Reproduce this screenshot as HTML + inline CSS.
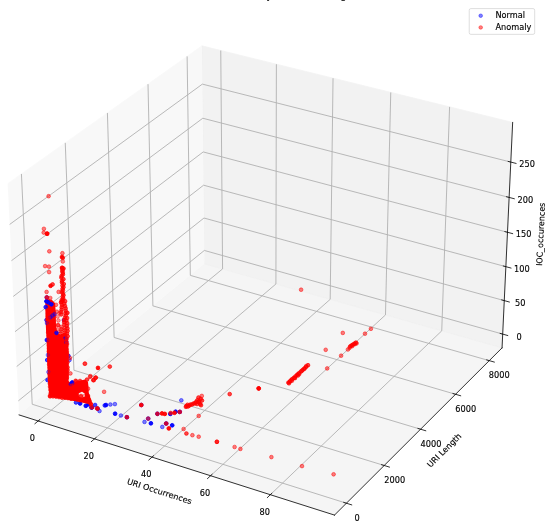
<!DOCTYPE html>
<html><head><meta charset="utf-8"><style>html,body{margin:0;padding:0;background:#fff;overflow:hidden}#w{filter:none;position:relative;width:550px;height:527px;overflow:hidden}svg{display:block} #w text{stroke:#000;stroke-width:0.16;stroke-linejoin:round}</style></head><body><div id="w">
<svg width="550" height="527" preserveAspectRatio="none" style="position:absolute;left:0;top:0" viewBox="0 0 671.186441 661.433744" version="1.1">
 
 <defs>
  <style type="text/css">*{stroke-linejoin: round; stroke-linecap: butt}</style>
 </defs>
 <g id="figure_1">
  <g id="patch_1">
   <path d="M 0 661.433744 
L 671.186441 661.433744 
L 671.186441 0 
L 0 0 
z
" style="fill: #ffffff"/>
  </g>
  <g id="patch_2">
   <path d="M -28.433898 689.721202 
L 656.762034 689.721202 
L 656.762034 4.52527 
L -28.433898 4.52527 
z
" style="fill: #ffffff"/>
  </g>
  <g id="pane3d_1">
   <g id="patch_3">
    <path d="M 23.30312 520.773844 
L 249.577194 331.106428 
L 246.431768 57.572109 
L 9.329313 230.598681 
" style="fill: #f2f2f2; opacity: 0.5; stroke: #f2f2f2; stroke-linejoin: miter"/>
   </g>
  </g>
  <g id="pane3d_2">
   <g id="patch_4">
    <path d="M 249.577194 331.106428 
L 612.666348 436.642111 
L 625.62372 153.686215 
L 246.431768 57.572109 
" style="fill: #e6e6e6; opacity: 0.5; stroke: #e6e6e6; stroke-linejoin: miter"/>
   </g>
  </g>
  <g id="pane3d_3">
   <g id="patch_5">
    <path d="M 23.30312 520.773844 
L 408.195357 646.479648 
L 612.666348 436.642111 
L 249.577194 331.106428 
" style="fill: #ececec; opacity: 0.5; stroke: #ececec; stroke-linejoin: miter"/>
   </g>
  </g>
  <g id="grid3d_1">
   <g id="Line3DCollection_1">
    <path d="M 46.564912 528.371145 
L 271.612475 337.511214 
L 269.398711 63.393559 
" style="fill: none; stroke: #b0b0b0; stroke-width: 1.1"/>
    <path d="M 115.352122 550.837048 
L 336.703902 356.430722 
L 337.276582 80.598621 
" style="fill: none; stroke: #b0b0b0; stroke-width: 1.1"/>
    <path d="M 185.479395 573.740615 
L 402.957614 375.688061 
L 406.419247 98.124271 
" style="fill: none; stroke: #b0b0b0; stroke-width: 1.1"/>
    <path d="M 256.986275 597.094762 
L 470.405024 395.29236 
L 476.862389 115.979554 
" style="fill: none; stroke: #b0b0b0; stroke-width: 1.1"/>
    <path d="M 329.913878 620.912917 
L 539.078685 415.253082 
L 548.643048 134.173859 
" style="fill: none; stroke: #b0b0b0; stroke-width: 1.1"/>
   </g>
  </g>
  <g id="grid3d_2">
   <g id="Line3DCollection_2">
    <path d="M 26.152236 218.322078 
L 39.301202 507.363934 
L 422.71134 631.582679 
" style="fill: none; stroke: #b0b0b0; stroke-width: 1.1"/>
    <path d="M 79.630379 179.296165 
L 90.214482 464.687413 
L 468.847524 584.235604 
" style="fill: none; stroke: #b0b0b0; stroke-width: 1.1"/>
    <path d="M 131.080161 141.750458 
L 139.278997 423.560564 
L 513.221683 538.696801 
" style="fill: none; stroke: #b0b0b0; stroke-width: 1.1"/>
    <path d="M 180.614833 105.60231 
L 186.593651 383.900483 
L 555.932867 494.864619 
" style="fill: none; stroke: #b0b0b0; stroke-width: 1.1"/>
    <path d="M 228.339373 70.775115 
L 232.250415 345.630078 
L 597.07284 452.644887 
" style="fill: none; stroke: #b0b0b0; stroke-width: 1.1"/>
   </g>
  </g>
  <g id="grid3d_3">
   <g id="Line3DCollection_3">
    <path d="M 613.459079 419.330904 
L 249.384376 314.338435 
L 22.449556 503.049045 
" style="fill: none; stroke: #b0b0b0; stroke-width: 1.1"/>
    <path d="M 615.38388 377.298164 
L 248.916407 273.642689 
L 20.376316 459.996863 
" style="fill: none; stroke: #b0b0b0; stroke-width: 1.1"/>
    <path d="M 617.3344 334.703801 
L 248.442485 232.429231 
L 18.274314 416.347442 
" style="fill: none; stroke: #b0b0b0; stroke-width: 1.1"/>
    <path d="M 619.311156 291.536485 
L 247.962496 190.688118 
L 16.142949 372.088268 
" style="fill: none; stroke: #b0b0b0; stroke-width: 1.1"/>
    <path d="M 621.314683 247.784576 
L 247.476321 148.409152 
L 13.981601 327.206474 
" style="fill: none; stroke: #b0b0b0; stroke-width: 1.1"/>
    <path d="M 623.345528 203.436118 
L 246.983842 105.58187 
L 11.789633 281.688828 
" style="fill: none; stroke: #b0b0b0; stroke-width: 1.1"/>
   </g>
  </g>
  <g id="axis3d_1">
   <g id="line2d_1">
    <path d="M 23.30312 520.773844 
L 408.195357 646.479648 
" style="fill: none; stroke: #000000; stroke-linecap: square"/>
   </g>
   <g id="xtick_1">
    <g id="line2d_2">
     <path d="M 48.524612 526.709149 
L 42.637102 531.70227 
" style="fill: none; stroke: #000000; stroke-linecap: square"/>
    </g>
    <g id="text_1" transform="translate(0.488 1.381)">
     <text style="font-size: 10px; font-family: 'DejaVu Sans', 'Liberation Sans', sans-serif; text-anchor: middle" x="39.052922" y="551.644524" transform="rotate(-0 39.052922 551.644524)">0</text>
    </g>
   </g>
   <g id="xtick_2">
    <g id="line2d_3">
     <path d="M 117.28115 549.142843 
L 111.485708 554.232798 
" style="fill: none; stroke: #000000; stroke-linecap: square"/>
    </g>
    <g id="text_2" transform="translate(0.488 1.381)">
     <text style="font-size: 10px; font-family: 'DejaVu Sans', 'Liberation Sans', sans-serif; text-anchor: middle" x="107.8676" y="574.29453" transform="rotate(-0 107.8676 574.29453)">20</text>
    </g>
   </g>
   <g id="xtick_3">
    <g id="line2d_4">
     <path d="M 187.376179 572.013256 
L 181.677528 577.20289 
" style="fill: none; stroke: #000000; stroke-linecap: square"/>
    </g>
    <g id="text_3" transform="translate(0.488 1.381)">
     <text style="font-size: 10px; font-family: 'DejaVu Sans', 'Liberation Sans', sans-serif; text-anchor: middle" x="178.024843" y="597.386435" transform="rotate(-0 178.024843 597.386435)">40</text>
    </g>
   </g>
   <g id="xtick_4">
    <g id="line2d_5">
     <path d="M 258.849168 595.333266 
L 253.25226 600.625535 
" style="fill: none; stroke: #000000; stroke-linecap: square"/>
    </g>
    <g id="text_4" transform="translate(0.488 1.381)">
     <text style="font-size: 10px; font-family: 'DejaVu Sans', 'Liberation Sans', sans-serif; text-anchor: middle" x="249.564331" y="620.933299" transform="rotate(-0 249.564331 620.933299)">60</text>
    </g>
   </g>
   <g id="xtick_5">
    <g id="line2d_6">
     <path d="M 331.741152 619.116263 
L 326.251177 624.514242 
" style="fill: none; stroke: #000000; stroke-linecap: square"/>
    </g>
    <g id="text_5" transform="translate(0.488 1.381)">
     <text style="font-size: 10px; font-family: 'DejaVu Sans', 'Liberation Sans', sans-serif; text-anchor: middle" x="322.527319" y="644.948701" transform="rotate(-0 322.527319 644.948701)">80</text>
    </g>
   </g>
   <g id="text_6" transform="translate(0.000 0.377)">
    <text style="font-size: 10px; font-family: 'DejaVu Sans', 'Liberation Sans', sans-serif; text-anchor: middle" x="193.609976" y="619.686553" transform="rotate(-341.912962 193.609976 619.686553)">URI Occurrences</text>
   </g>
  </g>
  <g id="axis3d_2">
   <g id="line2d_7">
    <path d="M 612.666348 436.642111 
L 408.195357 646.479648 
" style="fill: none; stroke: #000000; stroke-linecap: square"/>
   </g>
   <g id="xtick_6">
    <g id="line2d_8">
     <path d="M 419.480356 630.535892 
L 429.181661 633.67896 
" style="fill: none; stroke: #000000; stroke-linecap: square"/>
    </g>
    <g id="text_7" transform="translate(0.244 1.632)">
     <text style="font-size: 10px; font-family: 'DejaVu Sans', 'Liberation Sans', sans-serif; text-anchor: middle" x="435.585343" y="652.597323" transform="rotate(-0 435.585343 652.597323)">0</text>
    </g>
   </g>
   <g id="xtick_7">
    <g id="line2d_9">
     <path d="M 465.659943 583.229169 
L 475.230768 586.251026 
" style="fill: none; stroke: #000000; stroke-linecap: square"/>
    </g>
    <g id="text_8" transform="translate(0.244 1.632)">
     <text style="font-size: 10px; font-family: 'DejaVu Sans', 'Liberation Sans', sans-serif; text-anchor: middle" x="481.481358" y="604.978215" transform="rotate(-0 481.481358 604.978215)">2000</text>
    </g>
   </g>
   <g id="xtick_8">
    <g id="line2d_10">
     <path d="M 510.076577 537.728429 
L 519.519717 540.635953 
" style="fill: none; stroke: #000000; stroke-linecap: square"/>
    </g>
    <g id="text_9" transform="translate(0.244 1.632)">
     <text style="font-size: 10px; font-family: 'DejaVu Sans', 'Liberation Sans', sans-serif; text-anchor: middle" x="525.624128" y="559.178175" transform="rotate(-0 525.624128 559.178175)">4000</text>
    </g>
   </g>
   <g id="xtick_9">
    <g id="line2d_11">
     <path d="M 552.82932 493.932191 
L 562.147535 496.731751 
" style="fill: none; stroke: #000000; stroke-linecap: square"/>
    </g>
    <g id="text_10" transform="translate(0.244 1.632)">
     <text style="font-size: 10px; font-family: 'DejaVu Sans', 'Liberation Sans', sans-serif; text-anchor: middle" x="568.112232" y="515.094924" transform="rotate(-0 568.112232 515.094924)">6000</text>
    </g>
   </g>
   <g id="xtick_10">
    <g id="line2d_12">
     <path d="M 594.00995 451.746437 
L 603.205956 454.443938 
" style="fill: none; stroke: #000000; stroke-linecap: square"/>
    </g>
    <g id="text_11" transform="translate(0.244 1.632)">
     <text style="font-size: 10px; font-family: 'DejaVu Sans', 'Liberation Sans', sans-serif; text-anchor: middle" x="609.036994" y="472.633707" transform="rotate(-0 609.036994 472.633707)">8000</text>
    </g>
   </g>
   <g id="text_12" transform="translate(0.610 0.879)">
    <text style="font-size: 10px; font-family: 'DejaVu Sans', 'Liberation Sans', sans-serif; text-anchor: middle" x="543.935639" y="566.77736" transform="rotate(-45.742112 543.935639 566.77736)">URI Length</text>
   </g>
  </g>
  <g id="axis3d_3">
   <g id="line2d_13">
    <path d="M 612.666348 436.642111 
L 625.62372 153.686215 
" style="fill: none; stroke: #000000; stroke-linecap: square"/>
   </g>
   <g id="xtick_11">
    <g id="line2d_14">
     <path d="M 610.403097 418.449615 
L 619.57833 421.095584 
" style="fill: none; stroke: #000000; stroke-linecap: square"/>
    </g>
    <g id="text_13" transform="translate(1.831 1.883)">
     <text style="font-size: 10px; font-family: 'DejaVu Sans', 'Liberation Sans', sans-serif; text-anchor: middle" x="631.790364" y="424.332664" transform="rotate(-0 631.790364 424.332664)">0</text>
    </g>
   </g>
   <g id="xtick_12">
    <g id="line2d_15">
     <path d="M 612.306857 376.427826 
L 621.545314 379.040928 
" style="fill: none; stroke: #000000; stroke-linecap: square"/>
    </g>
    <g id="text_14" transform="translate(0.976 1.255)">
     <text style="font-size: 10px; font-family: 'DejaVu Sans', 'Liberation Sans', sans-serif; text-anchor: middle" x="633.83441" y="382.332205" transform="rotate(-0 633.83441 382.332205)">50</text>
    </g>
   </g>
   <g id="xtick_13">
    <g id="line2d_16">
     <path d="M 614.236043 333.844788 
L 623.538601 336.423904 
" style="fill: none; stroke: #000000; stroke-linecap: square"/>
    </g>
    <g id="text_15" transform="translate(0.976 1.255)">
     <text style="font-size: 10px; font-family: 'DejaVu Sans', 'Liberation Sans', sans-serif; text-anchor: middle" x="635.905735" y="339.771221" transform="rotate(-0 635.905735 339.771221)">100</text>
    </g>
   </g>
   <g id="xtick_14">
    <g id="line2d_17">
     <path d="M 616.191169 290.689179 
L 625.558722 293.233156 
" style="fill: none; stroke: #000000; stroke-linecap: square"/>
    </g>
    <g id="text_16" transform="translate(0.976 1.255)">
     <text style="font-size: 10px; font-family: 'DejaVu Sans', 'Liberation Sans', sans-serif; text-anchor: middle" x="638.004889" y="296.638415" transform="rotate(-0 638.004889 296.638415)">150</text>
    </g>
   </g>
   <g id="xtick_15">
    <g id="line2d_18">
     <path d="M 618.172761 246.949376 
L 627.606223 249.457022 
" style="fill: none; stroke: #000000; stroke-linecap: square"/>
    </g>
    <g id="text_17" transform="translate(0.976 1.255)">
     <text style="font-size: 10px; font-family: 'DejaVu Sans', 'Liberation Sans', sans-serif; text-anchor: middle" x="640.132436" y="252.922186" transform="rotate(-0 640.132436 252.922186)">200</text>
    </g>
   </g>
   <g id="xtick_16">
    <g id="line2d_19">
     <path d="M 620.181361 202.613433 
L 629.681665 205.083517 
" style="fill: none; stroke: #000000; stroke-linecap: square"/>
    </g>
    <g id="text_18" transform="translate(0.976 1.255)">
     <text style="font-size: 10px; font-family: 'DejaVu Sans', 'Liberation Sans', sans-serif; text-anchor: middle" x="642.288957" y="208.610615" transform="rotate(-0 642.288957 208.610615)">250</text>
    </g>
   </g>
   <g id="text_19" transform="translate(1.220 1.255)">
    <text style="font-size: 10px; font-family: 'DejaVu Sans', 'Liberation Sans', sans-serif; text-anchor: middle" x="662.072834" y="292.94812" transform="rotate(-87.378092 662.072834 292.94812)">IOC_occurences</text>
   </g>
  </g>
  <g id="axes_1">
   <g id="Path3DCollection_1"/>
   <g id="Path3DCollection_2"/>
   <g id="legend_1" transform="translate(0.732 1.255)">
    <g id="patch_6">
     <path d="M 573.899534 41.88152 
L 649.762034 41.88152 
Q 651.762034 41.88152 651.762034 39.88152 
L 651.762034 11.52527 
Q 651.762034 9.52527 649.762034 9.52527 
L 573.899534 9.52527 
Q 571.899534 9.52527 571.899534 11.52527 
L 571.899534 39.88152 
Q 571.899534 41.88152 573.899534 41.88152 
z
" style="fill: #ffffff; opacity: 0.8; stroke: #cccccc; stroke-linejoin: miter"/>
    </g>
    <g id="Path3DCollection_3">
     
     <g>
      <circle cx="585.899534" cy="18.498707" r="2.236068" style="fill: #0000ff; fill-opacity: 0.5; stroke: #0000ff; stroke-opacity: 0.5"/>
     </g>
    </g>
    <g id="text_20" transform="translate(0.000 0.628)">
     <text style="font-size: 10px; font-family: 'DejaVu Sans', 'Liberation Sans', sans-serif; text-anchor: start" x="603.899534" y="21.123707" transform="rotate(-0 603.899534 21.123707)">Normal</text>
    </g>
    <g id="Path3DCollection_4">
     
     <g>
      <circle cx="585.899534" cy="33.176832" r="2.236068" style="fill: #ff0000; fill-opacity: 0.5; stroke: #ff0000; stroke-opacity: 0.5"/>
     </g>
    </g>
    <g id="text_21" transform="translate(0.000 0.753)">
     <text style="font-size: 10px; font-family: 'DejaVu Sans', 'Liberation Sans', sans-serif; text-anchor: start" x="603.899534" y="35.801832" transform="rotate(-0 603.899534 35.801832)">Anomaly</text>
    </g>
   </g>
  </g>
 </g>
</svg>

<svg width="550" height="527" viewBox="0 0 550 527" style="position:absolute;left:0;top:0"><text x="261.9" y="-0.7" font-family="'DejaVu Sans', 'Liberation Sans', sans-serif" font-size="9.1" text-anchor="middle" fill="#000">3D Scatter Plot: Anomaly Detection using LOF</text>
<g stroke-width="0.95">
<circle cx="181.3" cy="400.3" r="1.85" fill="#0000ff" stroke="#0000ff" fill-opacity="0.5" stroke-opacity="0.5"/>
<circle cx="106.0" cy="405.0" r="1.85" fill="#0000ff" stroke="#0000ff" fill-opacity="0.95" stroke-opacity="0.95"/>
<circle cx="104.8" cy="405.4" r="1.85" fill="#0000ff" stroke="#0000ff" fill-opacity="0.72" stroke-opacity="0.72"/>
<circle cx="110.4" cy="404.5" r="1.85" fill="#0000ff" stroke="#0000ff" fill-opacity="0.5" stroke-opacity="0.5"/>
<circle cx="114.9" cy="404.1" r="1.85" fill="#0000ff" stroke="#0000ff" fill-opacity="0.5" stroke-opacity="0.5"/>
<circle cx="115.1" cy="413.7" r="1.85" fill="#0000ff" stroke="#0000ff" fill-opacity="0.95" stroke-opacity="0.95"/>
<circle cx="120.9" cy="415.5" r="1.85" fill="#0000ff" stroke="#0000ff" fill-opacity="0.5" stroke-opacity="0.5"/>
<circle cx="99.5" cy="411.0" r="1.85" fill="#0000ff" stroke="#0000ff" fill-opacity="0.5" stroke-opacity="0.5"/>
<circle cx="95.1" cy="405.0" r="1.85" fill="#0000ff" stroke="#0000ff" fill-opacity="0.72" stroke-opacity="0.72"/>
<circle cx="85.8" cy="405.8" r="1.85" fill="#0000ff" stroke="#0000ff" fill-opacity="0.95" stroke-opacity="0.95"/>
<circle cx="80.1" cy="403.5" r="1.85" fill="#0000ff" stroke="#0000ff" fill-opacity="0.95" stroke-opacity="0.95"/>
<circle cx="72.2" cy="382.5" r="1.85" fill="#0000ff" stroke="#0000ff" fill-opacity="0.95" stroke-opacity="0.95"/>
<circle cx="144.5" cy="421.9" r="1.85" fill="#0000ff" stroke="#0000ff" fill-opacity="0.5" stroke-opacity="0.5"/>
<circle cx="150.9" cy="423.3" r="1.85" fill="#0000ff" stroke="#0000ff" fill-opacity="0.95" stroke-opacity="0.95"/>
<circle cx="162.3" cy="426.9" r="1.85" fill="#0000ff" stroke="#0000ff" fill-opacity="0.5" stroke-opacity="0.5"/>
<circle cx="172.2" cy="425.3" r="1.85" fill="#0000ff" stroke="#0000ff" fill-opacity="0.95" stroke-opacity="0.95"/>
<circle cx="170.3" cy="413.9" r="1.85" fill="#0000ff" stroke="#0000ff" fill-opacity="0.95" stroke-opacity="0.95"/>
<circle cx="175.6" cy="411.7" r="1.85" fill="#0000ff" stroke="#0000ff" fill-opacity="0.95" stroke-opacity="0.95"/>
<circle cx="126.9" cy="417.2" r="1.85" fill="#0000ff" stroke="#0000ff" fill-opacity="0.95" stroke-opacity="0.95"/>
<circle cx="141.3" cy="405.0" r="1.85" fill="#0000ff" stroke="#0000ff" fill-opacity="0.72" stroke-opacity="0.72"/>
<circle cx="148.2" cy="418.6" r="1.85" fill="#0000ff" stroke="#0000ff" fill-opacity="0.72" stroke-opacity="0.72"/>
<circle cx="166.2" cy="423.5" r="1.85" fill="#0000ff" stroke="#0000ff" fill-opacity="0.95" stroke-opacity="0.95"/>
<circle cx="157.4" cy="413.8" r="1.85" fill="#0000ff" stroke="#0000ff" fill-opacity="0.95" stroke-opacity="0.95"/>
<circle cx="179.8" cy="411.9" r="1.85" fill="#0000ff" stroke="#0000ff" fill-opacity="0.95" stroke-opacity="0.95"/>
<circle cx="91.8" cy="407.4" r="1.85" fill="#0000ff" stroke="#0000ff" fill-opacity="0.95" stroke-opacity="0.95"/>
<circle cx="97.6" cy="408.6" r="1.85" fill="#0000ff" stroke="#0000ff" fill-opacity="0.95" stroke-opacity="0.95"/>
<circle cx="46.8" cy="297.4" r="1.85" fill="#0000ff" stroke="#0000ff" fill-opacity="0.72" stroke-opacity="0.72"/>
<circle cx="46.5" cy="301.3" r="1.85" fill="#0000ff" stroke="#0000ff" fill-opacity="0.95" stroke-opacity="0.95"/>
<circle cx="48.5" cy="302.5" r="1.85" fill="#0000ff" stroke="#0000ff" fill-opacity="0.95" stroke-opacity="0.95"/>
<circle cx="50.5" cy="303.5" r="1.85" fill="#0000ff" stroke="#0000ff" fill-opacity="0.95" stroke-opacity="0.95"/>
<circle cx="52.8" cy="316.0" r="1.85" fill="#0000ff" stroke="#0000ff" fill-opacity="0.95" stroke-opacity="0.95"/>
<circle cx="56.2" cy="332.6" r="1.85" fill="#0000ff" stroke="#0000ff" fill-opacity="0.95" stroke-opacity="0.95"/>
<circle cx="65.3" cy="340.6" r="1.85" fill="#0000ff" stroke="#0000ff" fill-opacity="0.95" stroke-opacity="0.95"/>
<circle cx="64.5" cy="344.0" r="1.85" fill="#0000ff" stroke="#0000ff" fill-opacity="0.72" stroke-opacity="0.72"/>
<circle cx="46.5" cy="320.0" r="1.85" fill="#0000ff" stroke="#0000ff" fill-opacity="0.72" stroke-opacity="0.72"/>
<circle cx="46.8" cy="340.0" r="1.85" fill="#0000ff" stroke="#0000ff" fill-opacity="0.72" stroke-opacity="0.72"/>
<circle cx="47.2" cy="360.0" r="1.85" fill="#0000ff" stroke="#0000ff" fill-opacity="0.72" stroke-opacity="0.72"/>
<circle cx="47.5" cy="380.0" r="1.85" fill="#0000ff" stroke="#0000ff" fill-opacity="0.72" stroke-opacity="0.72"/>
<circle cx="68.5" cy="356.0" r="1.85" fill="#0000ff" stroke="#0000ff" fill-opacity="0.72" stroke-opacity="0.72"/>
<circle cx="69.5" cy="360.0" r="1.85" fill="#0000ff" stroke="#0000ff" fill-opacity="0.5" stroke-opacity="0.5"/>
<circle cx="88.5" cy="404.3" r="1.85" fill="#0000ff" stroke="#0000ff" fill-opacity="0.95" stroke-opacity="0.95"/>
<circle cx="91.5" cy="407.5" r="1.85" fill="#0000ff" stroke="#0000ff" fill-opacity="0.95" stroke-opacity="0.95"/>
<circle cx="76.0" cy="402.5" r="1.85" fill="#0000ff" stroke="#0000ff" fill-opacity="0.72" stroke-opacity="0.72"/>
<polygon points="45.3,302 47.5,299 52,300 55,303 55.8,312 56,326 57.5,333 60,334.5 64,333 66.8,334 68.2,342 68.4,352 68.6,381 72,384.5 76,381.5 80,380.5 85.5,379.5 88,382 88.4,386 88.8,393 90.5,398 92,402 91,404.5 86,403.5 80,402 74,401 62,398.5 49.5,397 47.8,380 46.6,340 45.5,320" fill="#ff0000"/>
<polygon points="78.8,393.2 82,391.8 84.6,393.4 85,396.6 81.5,397.8 79,396.8" fill="#f5f5f5"/>
<circle cx="80.5" cy="396.8" r="1.85" fill="#ff0000" stroke="#ff0000" fill-opacity="0.3" stroke-opacity="0.3"/>
<circle cx="84.2" cy="396.2" r="1.85" fill="#ff0000" stroke="#ff0000" fill-opacity="0.3" stroke-opacity="0.3"/>
<circle cx="46.8" cy="301.4" r="1.85" fill="#0000ff" stroke="#0000ff" fill-opacity="0.9" stroke-opacity="0.9"/>
<circle cx="48.5" cy="302.5" r="1.85" fill="#0000ff" stroke="#0000ff" fill-opacity="0.8" stroke-opacity="0.8"/>
<circle cx="51.4" cy="304.3" r="1.85" fill="#0000ff" stroke="#0000ff" fill-opacity="0.9" stroke-opacity="0.9"/>
<circle cx="45.7" cy="307.1" r="1.85" fill="#0000ff" stroke="#0000ff" fill-opacity="0.8" stroke-opacity="0.8"/>
<circle cx="50.3" cy="317.4" r="1.85" fill="#0000ff" stroke="#0000ff" fill-opacity="0.45" stroke-opacity="0.45"/>
<circle cx="52.5" cy="315.5" r="1.85" fill="#0000ff" stroke="#0000ff" fill-opacity="0.45" stroke-opacity="0.45"/>
<circle cx="54.8" cy="314.0" r="1.85" fill="#0000ff" stroke="#0000ff" fill-opacity="0.45" stroke-opacity="0.45"/>
<circle cx="56.5" cy="332.8" r="1.85" fill="#0000ff" stroke="#0000ff" fill-opacity="0.8" stroke-opacity="0.8"/>
<circle cx="64.0" cy="320.2" r="1.85" fill="#0000ff" stroke="#0000ff" fill-opacity="0.7" stroke-opacity="0.7"/>
<circle cx="65.7" cy="337.9" r="1.85" fill="#0000ff" stroke="#0000ff" fill-opacity="0.8" stroke-opacity="0.8"/>
<circle cx="66.2" cy="341.9" r="1.85" fill="#0000ff" stroke="#0000ff" fill-opacity="0.7" stroke-opacity="0.7"/>
<circle cx="47.0" cy="323.0" r="1.85" fill="#0000ff" stroke="#0000ff" fill-opacity="0.45" stroke-opacity="0.45"/>
<circle cx="47.4" cy="340.0" r="1.85" fill="#0000ff" stroke="#0000ff" fill-opacity="0.45" stroke-opacity="0.45"/>
<circle cx="47.9" cy="355.0" r="1.85" fill="#0000ff" stroke="#0000ff" fill-opacity="0.4" stroke-opacity="0.4"/>
<circle cx="48.4" cy="372.0" r="1.85" fill="#0000ff" stroke="#0000ff" fill-opacity="0.4" stroke-opacity="0.4"/>
<circle cx="72.4" cy="382.8" r="1.85" fill="#0000ff" stroke="#0000ff" fill-opacity="0.75" stroke-opacity="0.75"/>
<circle cx="70.8" cy="384.2" r="1.85" fill="#0000ff" stroke="#0000ff" fill-opacity="0.5" stroke-opacity="0.5"/>
<circle cx="73.5" cy="384.8" r="1.85" fill="#ff0000" stroke="#ff0000" fill-opacity="0.45" stroke-opacity="0.45"/>
<circle cx="71.5" cy="386.0" r="1.85" fill="#ff0000" stroke="#ff0000" fill-opacity="0.45" stroke-opacity="0.45"/>
<circle cx="301.1" cy="289.7" r="1.85" fill="#ff0000" stroke="#ff0000" fill-opacity="0.5" stroke-opacity="0.5"/>
<circle cx="370.9" cy="328.8" r="1.85" fill="#ff0000" stroke="#ff0000" fill-opacity="0.5" stroke-opacity="0.5"/>
<circle cx="365.0" cy="333.7" r="1.85" fill="#ff0000" stroke="#ff0000" fill-opacity="0.5" stroke-opacity="0.5"/>
<circle cx="342.8" cy="332.9" r="1.85" fill="#ff0000" stroke="#ff0000" fill-opacity="0.5" stroke-opacity="0.5"/>
<circle cx="347.9" cy="349.5" r="1.85" fill="#ff0000" stroke="#ff0000" fill-opacity="0.5" stroke-opacity="0.5"/>
<circle cx="325.7" cy="349.8" r="1.85" fill="#ff0000" stroke="#ff0000" fill-opacity="0.5" stroke-opacity="0.5"/>
<circle cx="341.1" cy="355.7" r="1.85" fill="#ff0000" stroke="#ff0000" fill-opacity="0.5" stroke-opacity="0.5"/>
<circle cx="327.2" cy="368.4" r="1.85" fill="#ff0000" stroke="#ff0000" fill-opacity="0.5" stroke-opacity="0.5"/>
<circle cx="258.7" cy="388.4" r="1.85" fill="#ff0000" stroke="#ff0000" fill-opacity="0.95" stroke-opacity="0.95"/>
<circle cx="258.7" cy="388.4" r="1.85" fill="#ff0000" stroke="#ff0000" fill-opacity="0.72" stroke-opacity="0.72"/>
<circle cx="229.7" cy="394.1" r="1.85" fill="#ff0000" stroke="#ff0000" fill-opacity="0.72" stroke-opacity="0.72"/>
<circle cx="198.7" cy="415.9" r="1.85" fill="#ff0000" stroke="#ff0000" fill-opacity="0.5" stroke-opacity="0.5"/>
<circle cx="183.6" cy="429.0" r="1.85" fill="#ff0000" stroke="#ff0000" fill-opacity="0.5" stroke-opacity="0.5"/>
<circle cx="186.4" cy="433.5" r="1.85" fill="#ff0000" stroke="#ff0000" fill-opacity="0.72" stroke-opacity="0.72"/>
<circle cx="192.4" cy="435.2" r="1.85" fill="#ff0000" stroke="#ff0000" fill-opacity="0.5" stroke-opacity="0.5"/>
<circle cx="198.7" cy="436.7" r="1.85" fill="#ff0000" stroke="#ff0000" fill-opacity="0.5" stroke-opacity="0.5"/>
<circle cx="216.9" cy="441.8" r="1.85" fill="#ff0000" stroke="#ff0000" fill-opacity="0.72" stroke-opacity="0.72"/>
<circle cx="216.9" cy="441.8" r="1.85" fill="#ff0000" stroke="#ff0000" fill-opacity="0.5" stroke-opacity="0.5"/>
<circle cx="234.6" cy="447.0" r="1.85" fill="#ff0000" stroke="#ff0000" fill-opacity="0.5" stroke-opacity="0.5"/>
<circle cx="240.4" cy="448.9" r="1.85" fill="#ff0000" stroke="#ff0000" fill-opacity="0.5" stroke-opacity="0.5"/>
<circle cx="271.4" cy="457.1" r="1.85" fill="#ff0000" stroke="#ff0000" fill-opacity="0.5" stroke-opacity="0.5"/>
<circle cx="302.0" cy="466.1" r="1.85" fill="#ff0000" stroke="#ff0000" fill-opacity="0.5" stroke-opacity="0.5"/>
<circle cx="333.6" cy="474.3" r="1.85" fill="#ff0000" stroke="#ff0000" fill-opacity="0.5" stroke-opacity="0.5"/>
<circle cx="162.0" cy="413.4" r="1.85" fill="#ff0000" stroke="#ff0000" fill-opacity="0.95" stroke-opacity="0.95"/>
<circle cx="164.8" cy="413.9" r="1.85" fill="#ff0000" stroke="#ff0000" fill-opacity="0.95" stroke-opacity="0.95"/>
<circle cx="170.7" cy="413.0" r="1.85" fill="#ff0000" stroke="#ff0000" fill-opacity="0.72" stroke-opacity="0.72"/>
<circle cx="174.5" cy="412.8" r="1.85" fill="#ff0000" stroke="#ff0000" fill-opacity="0.95" stroke-opacity="0.95"/>
<circle cx="168.8" cy="428.4" r="1.85" fill="#ff0000" stroke="#ff0000" fill-opacity="0.95" stroke-opacity="0.95"/>
<circle cx="126.9" cy="417.2" r="1.85" fill="#ff0000" stroke="#ff0000" fill-opacity="0.72" stroke-opacity="0.72"/>
<circle cx="141.3" cy="405.0" r="1.85" fill="#ff0000" stroke="#ff0000" fill-opacity="0.95" stroke-opacity="0.95"/>
<circle cx="157.4" cy="413.8" r="1.85" fill="#ff0000" stroke="#ff0000" fill-opacity="0.72" stroke-opacity="0.72"/>
<circle cx="166.2" cy="423.5" r="1.85" fill="#ff0000" stroke="#ff0000" fill-opacity="0.72" stroke-opacity="0.72"/>
<circle cx="179.8" cy="411.9" r="1.85" fill="#ff0000" stroke="#ff0000" fill-opacity="0.72" stroke-opacity="0.72"/>
<circle cx="148.2" cy="418.6" r="1.85" fill="#ff0000" stroke="#ff0000" fill-opacity="0.5" stroke-opacity="0.5"/>
<circle cx="91.8" cy="407.4" r="1.85" fill="#ff0000" stroke="#ff0000" fill-opacity="0.72" stroke-opacity="0.72"/>
<circle cx="97.6" cy="408.6" r="1.85" fill="#ff0000" stroke="#ff0000" fill-opacity="0.72" stroke-opacity="0.72"/>
<circle cx="90.9" cy="404.1" r="1.85" fill="#ff0000" stroke="#ff0000" fill-opacity="0.95" stroke-opacity="0.95"/>
<circle cx="85.1" cy="363.7" r="1.85" fill="#ff0000" stroke="#ff0000" fill-opacity="0.5" stroke-opacity="0.5"/>
<circle cx="98.0" cy="367.9" r="1.85" fill="#ff0000" stroke="#ff0000" fill-opacity="0.95" stroke-opacity="0.95"/>
<circle cx="109.8" cy="366.6" r="1.85" fill="#ff0000" stroke="#ff0000" fill-opacity="0.72" stroke-opacity="0.72"/>
<circle cx="90.4" cy="376.1" r="1.85" fill="#ff0000" stroke="#ff0000" fill-opacity="0.5" stroke-opacity="0.5"/>
<circle cx="93.3" cy="380.2" r="1.85" fill="#ff0000" stroke="#ff0000" fill-opacity="0.5" stroke-opacity="0.5"/>
<circle cx="95.7" cy="377.6" r="1.85" fill="#ff0000" stroke="#ff0000" fill-opacity="0.5" stroke-opacity="0.5"/>
<circle cx="104.1" cy="391.8" r="1.85" fill="#ff0000" stroke="#ff0000" fill-opacity="0.5" stroke-opacity="0.5"/>
<circle cx="48.6" cy="196.2" r="1.85" fill="#ff0000" stroke="#ff0000" fill-opacity="0.5" stroke-opacity="0.5"/>
<circle cx="43.9" cy="228.8" r="1.85" fill="#ff0000" stroke="#ff0000" fill-opacity="0.5" stroke-opacity="0.5"/>
<circle cx="43.7" cy="232.6" r="1.85" fill="#ff0000" stroke="#ff0000" fill-opacity="0.5" stroke-opacity="0.5"/>
<circle cx="47.1" cy="233.7" r="1.85" fill="#ff0000" stroke="#ff0000" fill-opacity="0.95" stroke-opacity="0.95"/>
<circle cx="47.1" cy="233.7" r="1.85" fill="#ff0000" stroke="#ff0000" fill-opacity="0.72" stroke-opacity="0.72"/>
<circle cx="49.3" cy="251.3" r="1.85" fill="#ff0000" stroke="#ff0000" fill-opacity="0.5" stroke-opacity="0.5"/>
<circle cx="45.1" cy="266.1" r="1.85" fill="#ff0000" stroke="#ff0000" fill-opacity="0.5" stroke-opacity="0.5"/>
<circle cx="48.9" cy="266.6" r="1.85" fill="#ff0000" stroke="#ff0000" fill-opacity="0.5" stroke-opacity="0.5"/>
<circle cx="49.1" cy="272.1" r="1.85" fill="#ff0000" stroke="#ff0000" fill-opacity="0.5" stroke-opacity="0.5"/>
<circle cx="50.6" cy="285.8" r="1.85" fill="#ff0000" stroke="#ff0000" fill-opacity="0.95" stroke-opacity="0.95"/>
<circle cx="52.6" cy="284.4" r="1.85" fill="#ff0000" stroke="#ff0000" fill-opacity="0.72" stroke-opacity="0.72"/>
<circle cx="46.6" cy="291.9" r="1.85" fill="#ff0000" stroke="#ff0000" fill-opacity="0.5" stroke-opacity="0.5"/>
<circle cx="58.6" cy="291.9" r="1.85" fill="#ff0000" stroke="#ff0000" fill-opacity="0.5" stroke-opacity="0.5"/>
<circle cx="46.8" cy="297.4" r="1.85" fill="#ff0000" stroke="#ff0000" fill-opacity="0.72" stroke-opacity="0.72"/>
<circle cx="62.4" cy="253.2" r="1.85" fill="#ff0000" stroke="#ff0000" fill-opacity="0.5" stroke-opacity="0.5"/>
<circle cx="62.0" cy="257.0" r="1.85" fill="#ff0000" stroke="#ff0000" fill-opacity="0.95" stroke-opacity="0.95"/>
<circle cx="62.8" cy="257.9" r="1.85" fill="#ff0000" stroke="#ff0000" fill-opacity="0.72" stroke-opacity="0.72"/>
<circle cx="62.8" cy="261.5" r="1.85" fill="#ff0000" stroke="#ff0000" fill-opacity="0.5" stroke-opacity="0.5"/>
<circle cx="62.2" cy="267.8" r="1.85" fill="#ff0000" stroke="#ff0000" fill-opacity="0.95" stroke-opacity="0.95"/>
<circle cx="63.5" cy="268.5" r="1.85" fill="#ff0000" stroke="#ff0000" fill-opacity="0.72" stroke-opacity="0.72"/>
<circle cx="67.2" cy="312.9" r="1.85" fill="#ff0000" stroke="#ff0000" fill-opacity="0.5" stroke-opacity="0.5"/>
<circle cx="57.9" cy="325.0" r="1.85" fill="#ff0000" stroke="#ff0000" fill-opacity="0.5" stroke-opacity="0.5"/>
<circle cx="201.8" cy="395.9" r="1.85" fill="#ff0000" stroke="#ff0000" fill-opacity="0.5" stroke-opacity="0.5"/>
<circle cx="200.7" cy="398.8" r="1.85" fill="#ff0000" stroke="#ff0000" fill-opacity="0.72" stroke-opacity="0.72"/>
<circle cx="197.3" cy="400.3" r="1.85" fill="#ff0000" stroke="#ff0000" fill-opacity="0.72" stroke-opacity="0.72"/>
<circle cx="200.1" cy="403.9" r="1.85" fill="#ff0000" stroke="#ff0000" fill-opacity="0.72" stroke-opacity="0.72"/>
<circle cx="195.0" cy="403.3" r="1.85" fill="#ff0000" stroke="#ff0000" fill-opacity="0.72" stroke-opacity="0.72"/>
<circle cx="192.1" cy="404.5" r="1.85" fill="#ff0000" stroke="#ff0000" fill-opacity="0.72" stroke-opacity="0.72"/>
<circle cx="189.3" cy="405.6" r="1.85" fill="#ff0000" stroke="#ff0000" fill-opacity="0.72" stroke-opacity="0.72"/>
<circle cx="186.4" cy="406.0" r="1.85" fill="#ff0000" stroke="#ff0000" fill-opacity="0.72" stroke-opacity="0.72"/>
<circle cx="185.9" cy="406.8" r="1.85" fill="#ff0000" stroke="#ff0000" fill-opacity="0.72" stroke-opacity="0.72"/>
<circle cx="198.5" cy="402.0" r="1.85" fill="#ff0000" stroke="#ff0000" fill-opacity="0.72" stroke-opacity="0.72"/>
<circle cx="197.0" cy="404.0" r="1.85" fill="#ff0000" stroke="#ff0000" fill-opacity="0.72" stroke-opacity="0.72"/>
<circle cx="69.9" cy="358.0" r="1.85" fill="#ff0000" stroke="#ff0000" fill-opacity="0.5" stroke-opacity="0.5"/>
<circle cx="84.7" cy="363.7" r="1.85" fill="#ff0000" stroke="#ff0000" fill-opacity="0.5" stroke-opacity="0.5"/>
<circle cx="95.5" cy="377.9" r="1.85" fill="#ff0000" stroke="#ff0000" fill-opacity="0.5" stroke-opacity="0.5"/>
<circle cx="93.8" cy="380.2" r="1.85" fill="#ff0000" stroke="#ff0000" fill-opacity="0.5" stroke-opacity="0.5"/>
<circle cx="88.1" cy="388.7" r="1.85" fill="#ff0000" stroke="#ff0000" fill-opacity="0.5" stroke-opacity="0.5"/>
<circle cx="87.0" cy="379.6" r="1.85" fill="#ff0000" stroke="#ff0000" fill-opacity="0.72" stroke-opacity="0.72"/>
<circle cx="75.6" cy="380.8" r="1.85" fill="#ff0000" stroke="#ff0000" fill-opacity="0.72" stroke-opacity="0.72"/>
<circle cx="80.0" cy="381.0" r="1.85" fill="#ff0000" stroke="#ff0000" fill-opacity="0.72" stroke-opacity="0.72"/>
<circle cx="84.0" cy="383.0" r="1.85" fill="#ff0000" stroke="#ff0000" fill-opacity="0.72" stroke-opacity="0.72"/>
<circle cx="86.0" cy="390.0" r="1.85" fill="#ff0000" stroke="#ff0000" fill-opacity="0.72" stroke-opacity="0.72"/>
<circle cx="88.0" cy="396.0" r="1.85" fill="#ff0000" stroke="#ff0000" fill-opacity="0.72" stroke-opacity="0.72"/>
<circle cx="89.0" cy="400.0" r="1.85" fill="#ff0000" stroke="#ff0000" fill-opacity="0.72" stroke-opacity="0.72"/>
<circle cx="81.0" cy="396.0" r="1.85" fill="#ff0000" stroke="#ff0000" fill-opacity="0.72" stroke-opacity="0.72"/>
<circle cx="288.4" cy="382.6" r="1.85" fill="#ff0000" stroke="#ff0000" fill-opacity="0.72" stroke-opacity="0.72"/>
<circle cx="290.2" cy="381.0" r="1.85" fill="#ff0000" stroke="#ff0000" fill-opacity="0.72" stroke-opacity="0.72"/>
<circle cx="292.0" cy="379.4" r="1.85" fill="#ff0000" stroke="#ff0000" fill-opacity="0.72" stroke-opacity="0.72"/>
<circle cx="293.7" cy="377.9" r="1.85" fill="#ff0000" stroke="#ff0000" fill-opacity="0.72" stroke-opacity="0.72"/>
<circle cx="295.5" cy="376.3" r="1.85" fill="#ff0000" stroke="#ff0000" fill-opacity="0.72" stroke-opacity="0.72"/>
<circle cx="297.3" cy="374.7" r="1.85" fill="#ff0000" stroke="#ff0000" fill-opacity="0.72" stroke-opacity="0.72"/>
<circle cx="299.1" cy="373.1" r="1.85" fill="#ff0000" stroke="#ff0000" fill-opacity="0.72" stroke-opacity="0.72"/>
<circle cx="300.9" cy="371.5" r="1.85" fill="#ff0000" stroke="#ff0000" fill-opacity="0.72" stroke-opacity="0.72"/>
<circle cx="302.7" cy="369.9" r="1.85" fill="#ff0000" stroke="#ff0000" fill-opacity="0.72" stroke-opacity="0.72"/>
<circle cx="304.4" cy="368.4" r="1.85" fill="#ff0000" stroke="#ff0000" fill-opacity="0.72" stroke-opacity="0.72"/>
<circle cx="306.2" cy="366.8" r="1.85" fill="#ff0000" stroke="#ff0000" fill-opacity="0.72" stroke-opacity="0.72"/>
<circle cx="308.0" cy="365.2" r="1.85" fill="#ff0000" stroke="#ff0000" fill-opacity="0.72" stroke-opacity="0.72"/>
<circle cx="289.0" cy="383.4" r="1.85" fill="#ff0000" stroke="#ff0000" fill-opacity="0.5" stroke-opacity="0.5"/>
<circle cx="292.0" cy="380.8" r="1.85" fill="#ff0000" stroke="#ff0000" fill-opacity="0.5" stroke-opacity="0.5"/>
<circle cx="295.0" cy="378.2" r="1.85" fill="#ff0000" stroke="#ff0000" fill-opacity="0.5" stroke-opacity="0.5"/>
<circle cx="298.0" cy="375.6" r="1.85" fill="#ff0000" stroke="#ff0000" fill-opacity="0.5" stroke-opacity="0.5"/>
<circle cx="289.5" cy="382.2" r="1.85" fill="#ff0000" stroke="#ff0000" fill-opacity="0.5" stroke-opacity="0.5"/>
<circle cx="291.5" cy="379.6" r="1.85" fill="#ff0000" stroke="#ff0000" fill-opacity="0.5" stroke-opacity="0.5"/>
<circle cx="294.8" cy="377.8" r="1.85" fill="#ff0000" stroke="#ff0000" fill-opacity="0.5" stroke-opacity="0.5"/>
<circle cx="297.6" cy="374.5" r="1.85" fill="#ff0000" stroke="#ff0000" fill-opacity="0.5" stroke-opacity="0.5"/>
<circle cx="299.2" cy="374.2" r="1.85" fill="#ff0000" stroke="#ff0000" fill-opacity="0.5" stroke-opacity="0.5"/>
<circle cx="301.8" cy="371.0" r="1.85" fill="#ff0000" stroke="#ff0000" fill-opacity="0.5" stroke-opacity="0.5"/>
<circle cx="304.5" cy="368.8" r="1.85" fill="#ff0000" stroke="#ff0000" fill-opacity="0.5" stroke-opacity="0.5"/>
<circle cx="306.2" cy="366.0" r="1.85" fill="#ff0000" stroke="#ff0000" fill-opacity="0.5" stroke-opacity="0.5"/>
<circle cx="350.2" cy="346.4" r="1.85" fill="#ff0000" stroke="#ff0000" fill-opacity="0.72" stroke-opacity="0.72"/>
<circle cx="351.6" cy="345.4" r="1.85" fill="#ff0000" stroke="#ff0000" fill-opacity="0.72" stroke-opacity="0.72"/>
<circle cx="353.0" cy="344.5" r="1.85" fill="#ff0000" stroke="#ff0000" fill-opacity="0.72" stroke-opacity="0.72"/>
<circle cx="354.5" cy="343.6" r="1.85" fill="#ff0000" stroke="#ff0000" fill-opacity="0.72" stroke-opacity="0.72"/>
<circle cx="355.9" cy="342.6" r="1.85" fill="#ff0000" stroke="#ff0000" fill-opacity="0.72" stroke-opacity="0.72"/>
<circle cx="199.0" cy="401.5" r="1.85" fill="#ff0000" stroke="#ff0000" fill-opacity="0.72" stroke-opacity="0.72"/>
<circle cx="196.0" cy="402.0" r="1.85" fill="#ff0000" stroke="#ff0000" fill-opacity="0.72" stroke-opacity="0.72"/>
<circle cx="193.5" cy="403.5" r="1.85" fill="#ff0000" stroke="#ff0000" fill-opacity="0.72" stroke-opacity="0.72"/>
<circle cx="190.5" cy="404.5" r="1.85" fill="#ff0000" stroke="#ff0000" fill-opacity="0.72" stroke-opacity="0.72"/>
<circle cx="188.0" cy="406.5" r="1.85" fill="#ff0000" stroke="#ff0000" fill-opacity="0.72" stroke-opacity="0.72"/>
<circle cx="198.5" cy="397.5" r="1.85" fill="#ff0000" stroke="#ff0000" fill-opacity="0.72" stroke-opacity="0.72"/>
<circle cx="202.0" cy="400.5" r="1.85" fill="#ff0000" stroke="#ff0000" fill-opacity="0.72" stroke-opacity="0.72"/>
<circle cx="201.0" cy="405.2" r="1.85" fill="#ff0000" stroke="#ff0000" fill-opacity="0.72" stroke-opacity="0.72"/>
<circle cx="187.5" cy="404.8" r="1.85" fill="#ff0000" stroke="#ff0000" fill-opacity="0.72" stroke-opacity="0.72"/>
<circle cx="349.6" cy="347.8" r="1.85" fill="#ff0000" stroke="#ff0000" fill-opacity="0.5" stroke-opacity="0.5"/>
<circle cx="352.2" cy="346.2" r="1.85" fill="#ff0000" stroke="#ff0000" fill-opacity="0.5" stroke-opacity="0.5"/>
<circle cx="354.8" cy="344.2" r="1.85" fill="#ff0000" stroke="#ff0000" fill-opacity="0.5" stroke-opacity="0.5"/>
<circle cx="356.6" cy="343.4" r="1.85" fill="#ff0000" stroke="#ff0000" fill-opacity="0.5" stroke-opacity="0.5"/>
<circle cx="62.0" cy="268.0" r="1.85" fill="#ff0000" stroke="#ff0000" fill-opacity="0.72" stroke-opacity="0.72"/>
<circle cx="62.7" cy="269.6" r="1.85" fill="#ff0000" stroke="#ff0000" fill-opacity="0.72" stroke-opacity="0.72"/>
<circle cx="62.3" cy="271.2" r="1.85" fill="#ff0000" stroke="#ff0000" fill-opacity="0.72" stroke-opacity="0.72"/>
<circle cx="62.8" cy="272.8" r="1.85" fill="#ff0000" stroke="#ff0000" fill-opacity="0.72" stroke-opacity="0.72"/>
<circle cx="62.9" cy="274.4" r="1.85" fill="#ff0000" stroke="#ff0000" fill-opacity="0.72" stroke-opacity="0.72"/>
<circle cx="61.6" cy="276.0" r="1.85" fill="#ff0000" stroke="#ff0000" fill-opacity="0.72" stroke-opacity="0.72"/>
<circle cx="61.4" cy="277.6" r="1.85" fill="#ff0000" stroke="#ff0000" fill-opacity="0.72" stroke-opacity="0.72"/>
<circle cx="63.4" cy="279.2" r="1.85" fill="#ff0000" stroke="#ff0000" fill-opacity="0.72" stroke-opacity="0.72"/>
<circle cx="62.0" cy="280.8" r="1.85" fill="#ff0000" stroke="#ff0000" fill-opacity="0.72" stroke-opacity="0.72"/>
<circle cx="62.0" cy="282.4" r="1.85" fill="#ff0000" stroke="#ff0000" fill-opacity="0.72" stroke-opacity="0.72"/>
<circle cx="63.8" cy="284.0" r="1.85" fill="#ff0000" stroke="#ff0000" fill-opacity="0.72" stroke-opacity="0.72"/>
<circle cx="62.5" cy="285.6" r="1.85" fill="#ff0000" stroke="#ff0000" fill-opacity="0.72" stroke-opacity="0.72"/>
<circle cx="63.4" cy="287.2" r="1.85" fill="#ff0000" stroke="#ff0000" fill-opacity="0.72" stroke-opacity="0.72"/>
<circle cx="62.5" cy="288.8" r="1.85" fill="#ff0000" stroke="#ff0000" fill-opacity="0.72" stroke-opacity="0.72"/>
<circle cx="62.9" cy="290.4" r="1.85" fill="#ff0000" stroke="#ff0000" fill-opacity="0.72" stroke-opacity="0.72"/>
<circle cx="61.8" cy="292.0" r="1.85" fill="#ff0000" stroke="#ff0000" fill-opacity="0.72" stroke-opacity="0.72"/>
<circle cx="62.9" cy="293.6" r="1.85" fill="#ff0000" stroke="#ff0000" fill-opacity="0.72" stroke-opacity="0.72"/>
<circle cx="63.5" cy="295.2" r="1.85" fill="#ff0000" stroke="#ff0000" fill-opacity="0.72" stroke-opacity="0.72"/>
<circle cx="62.7" cy="296.8" r="1.85" fill="#ff0000" stroke="#ff0000" fill-opacity="0.72" stroke-opacity="0.72"/>
<circle cx="63.2" cy="298.4" r="1.85" fill="#ff0000" stroke="#ff0000" fill-opacity="0.72" stroke-opacity="0.72"/>
<circle cx="63.0" cy="300.0" r="1.85" fill="#ff0000" stroke="#ff0000" fill-opacity="0.72" stroke-opacity="0.72"/>
<circle cx="61.6" cy="301.6" r="1.85" fill="#ff0000" stroke="#ff0000" fill-opacity="0.72" stroke-opacity="0.72"/>
<circle cx="61.7" cy="300.0" r="1.85" fill="#ff0000" stroke="#ff0000" fill-opacity="0.7" stroke-opacity="0.7"/>
<circle cx="65.1" cy="301.2" r="1.85" fill="#ff0000" stroke="#ff0000" fill-opacity="0.7" stroke-opacity="0.7"/>
<circle cx="61.0" cy="302.4" r="1.85" fill="#ff0000" stroke="#ff0000" fill-opacity="0.7" stroke-opacity="0.7"/>
<circle cx="64.2" cy="303.6" r="1.85" fill="#ff0000" stroke="#ff0000" fill-opacity="0.7" stroke-opacity="0.7"/>
<circle cx="61.9" cy="304.8" r="1.85" fill="#ff0000" stroke="#ff0000" fill-opacity="0.7" stroke-opacity="0.7"/>
<circle cx="65.0" cy="306.0" r="1.85" fill="#ff0000" stroke="#ff0000" fill-opacity="0.7" stroke-opacity="0.7"/>
<circle cx="61.7" cy="307.2" r="1.85" fill="#ff0000" stroke="#ff0000" fill-opacity="0.7" stroke-opacity="0.7"/>
<circle cx="65.6" cy="308.4" r="1.85" fill="#ff0000" stroke="#ff0000" fill-opacity="0.7" stroke-opacity="0.7"/>
<circle cx="61.6" cy="309.6" r="1.85" fill="#ff0000" stroke="#ff0000" fill-opacity="0.7" stroke-opacity="0.7"/>
<circle cx="65.7" cy="310.8" r="1.85" fill="#ff0000" stroke="#ff0000" fill-opacity="0.7" stroke-opacity="0.7"/>
<circle cx="61.1" cy="312.0" r="1.85" fill="#ff0000" stroke="#ff0000" fill-opacity="0.7" stroke-opacity="0.7"/>
<circle cx="65.5" cy="313.2" r="1.85" fill="#ff0000" stroke="#ff0000" fill-opacity="0.7" stroke-opacity="0.7"/>
<circle cx="61.2" cy="314.4" r="1.85" fill="#ff0000" stroke="#ff0000" fill-opacity="0.7" stroke-opacity="0.7"/>
<circle cx="65.7" cy="315.6" r="1.85" fill="#ff0000" stroke="#ff0000" fill-opacity="0.7" stroke-opacity="0.7"/>
<circle cx="65.1" cy="317.5" r="1.85" fill="#ff0000" stroke="#ff0000" fill-opacity="0.7" stroke-opacity="0.7"/>
<circle cx="64.1" cy="319.9" r="1.85" fill="#ff0000" stroke="#ff0000" fill-opacity="0.7" stroke-opacity="0.7"/>
<circle cx="64.2" cy="322.3" r="1.85" fill="#ff0000" stroke="#ff0000" fill-opacity="0.7" stroke-opacity="0.7"/>
<circle cx="64.3" cy="324.7" r="1.85" fill="#ff0000" stroke="#ff0000" fill-opacity="0.7" stroke-opacity="0.7"/>
<circle cx="61.4" cy="327.0" r="1.85" fill="#ff0000" stroke="#ff0000" fill-opacity="0.55" stroke-opacity="0.55"/>
<circle cx="64.7" cy="328.1" r="1.85" fill="#ff0000" stroke="#ff0000" fill-opacity="0.6" stroke-opacity="0.6"/>
<circle cx="61.0" cy="329.2" r="1.85" fill="#ff0000" stroke="#ff0000" fill-opacity="0.55" stroke-opacity="0.55"/>
<circle cx="64.6" cy="330.3" r="1.85" fill="#ff0000" stroke="#ff0000" fill-opacity="0.6" stroke-opacity="0.6"/>
<circle cx="60.8" cy="331.4" r="1.85" fill="#ff0000" stroke="#ff0000" fill-opacity="0.55" stroke-opacity="0.55"/>
<circle cx="64.7" cy="332.5" r="1.85" fill="#ff0000" stroke="#ff0000" fill-opacity="0.6" stroke-opacity="0.6"/>
<circle cx="60.6" cy="333.6" r="1.85" fill="#ff0000" stroke="#ff0000" fill-opacity="0.55" stroke-opacity="0.55"/>
<circle cx="64.9" cy="334.7" r="1.85" fill="#ff0000" stroke="#ff0000" fill-opacity="0.6" stroke-opacity="0.6"/>
<circle cx="70.4" cy="373.4" r="1.85" fill="#ff0000" stroke="#ff0000" fill-opacity="0.5" stroke-opacity="0.5"/>
<circle cx="76.4" cy="381.4" r="1.85" fill="#ff0000" stroke="#ff0000" fill-opacity="0.5" stroke-opacity="0.5"/>
<circle cx="90.1" cy="376.8" r="1.85" fill="#ff0000" stroke="#ff0000" fill-opacity="0.5" stroke-opacity="0.5"/>
<circle cx="93.5" cy="379.9" r="1.85" fill="#ff0000" stroke="#ff0000" fill-opacity="0.5" stroke-opacity="0.5"/>
<circle cx="95.8" cy="377.6" r="1.85" fill="#ff0000" stroke="#ff0000" fill-opacity="0.5" stroke-opacity="0.5"/>
<circle cx="96.9" cy="408.3" r="1.85" fill="#ff0000" stroke="#ff0000" fill-opacity="0.5" stroke-opacity="0.5"/>
<circle cx="50.3" cy="298.0" r="1.85" fill="#ff0000" stroke="#ff0000" fill-opacity="0.5" stroke-opacity="0.5"/>
<circle cx="56.0" cy="304.8" r="1.85" fill="#ff0000" stroke="#ff0000" fill-opacity="0.5" stroke-opacity="0.5"/>
<circle cx="56.9" cy="311.7" r="1.85" fill="#ff0000" stroke="#ff0000" fill-opacity="0.5" stroke-opacity="0.5"/>
<circle cx="58.2" cy="325.3" r="1.85" fill="#ff0000" stroke="#ff0000" fill-opacity="0.5" stroke-opacity="0.5"/>
<circle cx="67.4" cy="312.8" r="1.85" fill="#ff0000" stroke="#ff0000" fill-opacity="0.5" stroke-opacity="0.5"/>
<circle cx="57.6" cy="316.5" r="1.85" fill="#ff0000" stroke="#ff0000" fill-opacity="0.4" stroke-opacity="0.4"/>
<circle cx="58.4" cy="320.5" r="1.85" fill="#ff0000" stroke="#ff0000" fill-opacity="0.4" stroke-opacity="0.4"/>
<circle cx="57.2" cy="329.5" r="1.85" fill="#ff0000" stroke="#ff0000" fill-opacity="0.4" stroke-opacity="0.4"/>
<circle cx="59.5" cy="313.0" r="1.85" fill="#ff0000" stroke="#ff0000" fill-opacity="0.4" stroke-opacity="0.4"/>
<circle cx="47.8" cy="310.0" r="1.85" fill="#ff0000" stroke="#ff0000" fill-opacity="0.5" stroke-opacity="0.5"/>
<circle cx="48.1" cy="313.2" r="1.85" fill="#ff0000" stroke="#ff0000" fill-opacity="0.5" stroke-opacity="0.5"/>
<circle cx="48.1" cy="316.4" r="1.85" fill="#ff0000" stroke="#ff0000" fill-opacity="0.5" stroke-opacity="0.5"/>
<circle cx="48.4" cy="319.6" r="1.85" fill="#ff0000" stroke="#ff0000" fill-opacity="0.5" stroke-opacity="0.5"/>
<circle cx="48.4" cy="322.8" r="1.85" fill="#ff0000" stroke="#ff0000" fill-opacity="0.5" stroke-opacity="0.5"/>
<circle cx="48.6" cy="326.0" r="1.85" fill="#ff0000" stroke="#ff0000" fill-opacity="0.5" stroke-opacity="0.5"/>
<circle cx="48.5" cy="329.2" r="1.85" fill="#ff0000" stroke="#ff0000" fill-opacity="0.5" stroke-opacity="0.5"/>
<circle cx="48.2" cy="332.4" r="1.85" fill="#ff0000" stroke="#ff0000" fill-opacity="0.5" stroke-opacity="0.5"/>
<circle cx="48.8" cy="335.6" r="1.85" fill="#ff0000" stroke="#ff0000" fill-opacity="0.5" stroke-opacity="0.5"/>
<circle cx="49.0" cy="338.8" r="1.85" fill="#ff0000" stroke="#ff0000" fill-opacity="0.5" stroke-opacity="0.5"/>
<circle cx="49.0" cy="342.0" r="1.85" fill="#ff0000" stroke="#ff0000" fill-opacity="0.5" stroke-opacity="0.5"/>
<circle cx="48.9" cy="345.2" r="1.85" fill="#ff0000" stroke="#ff0000" fill-opacity="0.5" stroke-opacity="0.5"/>
<circle cx="49.1" cy="348.4" r="1.85" fill="#ff0000" stroke="#ff0000" fill-opacity="0.5" stroke-opacity="0.5"/>
<circle cx="48.8" cy="351.6" r="1.85" fill="#ff0000" stroke="#ff0000" fill-opacity="0.5" stroke-opacity="0.5"/>
<circle cx="49.4" cy="354.8" r="1.85" fill="#ff0000" stroke="#ff0000" fill-opacity="0.5" stroke-opacity="0.5"/>
<circle cx="49.3" cy="358.0" r="1.85" fill="#ff0000" stroke="#ff0000" fill-opacity="0.5" stroke-opacity="0.5"/>
<circle cx="49.2" cy="361.2" r="1.85" fill="#ff0000" stroke="#ff0000" fill-opacity="0.5" stroke-opacity="0.5"/>
<circle cx="49.1" cy="364.4" r="1.85" fill="#ff0000" stroke="#ff0000" fill-opacity="0.5" stroke-opacity="0.5"/>
<circle cx="49.8" cy="367.6" r="1.85" fill="#ff0000" stroke="#ff0000" fill-opacity="0.5" stroke-opacity="0.5"/>
<circle cx="50.0" cy="370.8" r="1.85" fill="#ff0000" stroke="#ff0000" fill-opacity="0.5" stroke-opacity="0.5"/>
<circle cx="49.5" cy="374.0" r="1.85" fill="#ff0000" stroke="#ff0000" fill-opacity="0.5" stroke-opacity="0.5"/>
<circle cx="50.1" cy="377.2" r="1.85" fill="#ff0000" stroke="#ff0000" fill-opacity="0.5" stroke-opacity="0.5"/>
<circle cx="49.9" cy="380.4" r="1.85" fill="#ff0000" stroke="#ff0000" fill-opacity="0.5" stroke-opacity="0.5"/>
<circle cx="49.8" cy="383.6" r="1.85" fill="#ff0000" stroke="#ff0000" fill-opacity="0.5" stroke-opacity="0.5"/>
<circle cx="50.0" cy="386.8" r="1.85" fill="#ff0000" stroke="#ff0000" fill-opacity="0.5" stroke-opacity="0.5"/>
<circle cx="50.4" cy="390.0" r="1.85" fill="#ff0000" stroke="#ff0000" fill-opacity="0.5" stroke-opacity="0.5"/>
<circle cx="50.6" cy="393.2" r="1.85" fill="#ff0000" stroke="#ff0000" fill-opacity="0.5" stroke-opacity="0.5"/>
<circle cx="50.1" cy="396.4" r="1.85" fill="#ff0000" stroke="#ff0000" fill-opacity="0.5" stroke-opacity="0.5"/>
<circle cx="67.1" cy="318.0" r="1.85" fill="#ff0000" stroke="#ff0000" fill-opacity="0.72" stroke-opacity="0.72"/>
<circle cx="66.3" cy="320.6" r="1.85" fill="#ff0000" stroke="#ff0000" fill-opacity="0.72" stroke-opacity="0.72"/>
<circle cx="67.2" cy="323.2" r="1.85" fill="#ff0000" stroke="#ff0000" fill-opacity="0.72" stroke-opacity="0.72"/>
<circle cx="66.7" cy="325.8" r="1.85" fill="#ff0000" stroke="#ff0000" fill-opacity="0.72" stroke-opacity="0.72"/>
<circle cx="67.4" cy="328.4" r="1.85" fill="#ff0000" stroke="#ff0000" fill-opacity="0.72" stroke-opacity="0.72"/>
<circle cx="67.6" cy="331.0" r="1.85" fill="#ff0000" stroke="#ff0000" fill-opacity="0.72" stroke-opacity="0.72"/>
<circle cx="66.9" cy="333.6" r="1.85" fill="#ff0000" stroke="#ff0000" fill-opacity="0.72" stroke-opacity="0.72"/>
<circle cx="67.6" cy="336.2" r="1.85" fill="#ff0000" stroke="#ff0000" fill-opacity="0.72" stroke-opacity="0.72"/>
<circle cx="66.6" cy="338.8" r="1.85" fill="#ff0000" stroke="#ff0000" fill-opacity="0.72" stroke-opacity="0.72"/>
<circle cx="66.3" cy="341.4" r="1.85" fill="#ff0000" stroke="#ff0000" fill-opacity="0.72" stroke-opacity="0.72"/>
<circle cx="67.0" cy="344.0" r="1.85" fill="#ff0000" stroke="#ff0000" fill-opacity="0.72" stroke-opacity="0.72"/>
<circle cx="66.2" cy="346.6" r="1.85" fill="#ff0000" stroke="#ff0000" fill-opacity="0.72" stroke-opacity="0.72"/>
<circle cx="66.5" cy="349.2" r="1.85" fill="#ff0000" stroke="#ff0000" fill-opacity="0.72" stroke-opacity="0.72"/>
<circle cx="66.8" cy="351.8" r="1.85" fill="#ff0000" stroke="#ff0000" fill-opacity="0.72" stroke-opacity="0.72"/>
<circle cx="67.1" cy="354.4" r="1.85" fill="#ff0000" stroke="#ff0000" fill-opacity="0.72" stroke-opacity="0.72"/>
<circle cx="66.4" cy="357.0" r="1.85" fill="#ff0000" stroke="#ff0000" fill-opacity="0.72" stroke-opacity="0.72"/>
<circle cx="66.3" cy="359.6" r="1.85" fill="#ff0000" stroke="#ff0000" fill-opacity="0.72" stroke-opacity="0.72"/>
<circle cx="67.4" cy="362.2" r="1.85" fill="#ff0000" stroke="#ff0000" fill-opacity="0.72" stroke-opacity="0.72"/>
<circle cx="66.6" cy="364.8" r="1.85" fill="#ff0000" stroke="#ff0000" fill-opacity="0.72" stroke-opacity="0.72"/>
<circle cx="67.5" cy="367.4" r="1.85" fill="#ff0000" stroke="#ff0000" fill-opacity="0.72" stroke-opacity="0.72"/>
<circle cx="67.5" cy="370.0" r="1.85" fill="#ff0000" stroke="#ff0000" fill-opacity="0.72" stroke-opacity="0.72"/>
<circle cx="66.7" cy="372.6" r="1.85" fill="#ff0000" stroke="#ff0000" fill-opacity="0.72" stroke-opacity="0.72"/>
<circle cx="66.8" cy="375.2" r="1.85" fill="#ff0000" stroke="#ff0000" fill-opacity="0.72" stroke-opacity="0.72"/>
<circle cx="66.9" cy="377.8" r="1.85" fill="#ff0000" stroke="#ff0000" fill-opacity="0.72" stroke-opacity="0.72"/>
<circle cx="50.0" cy="395.9" r="1.85" fill="#ff0000" stroke="#ff0000" fill-opacity="0.72" stroke-opacity="0.72"/>
<circle cx="53.0" cy="396.3" r="1.85" fill="#ff0000" stroke="#ff0000" fill-opacity="0.72" stroke-opacity="0.72"/>
<circle cx="56.0" cy="396.6" r="1.85" fill="#ff0000" stroke="#ff0000" fill-opacity="0.72" stroke-opacity="0.72"/>
<circle cx="59.0" cy="397.1" r="1.85" fill="#ff0000" stroke="#ff0000" fill-opacity="0.72" stroke-opacity="0.72"/>
<circle cx="62.0" cy="397.7" r="1.85" fill="#ff0000" stroke="#ff0000" fill-opacity="0.72" stroke-opacity="0.72"/>
<circle cx="65.0" cy="397.8" r="1.85" fill="#ff0000" stroke="#ff0000" fill-opacity="0.72" stroke-opacity="0.72"/>
<circle cx="68.0" cy="398.1" r="1.85" fill="#ff0000" stroke="#ff0000" fill-opacity="0.72" stroke-opacity="0.72"/>
<circle cx="71.0" cy="398.7" r="1.85" fill="#ff0000" stroke="#ff0000" fill-opacity="0.72" stroke-opacity="0.72"/>
<circle cx="74.0" cy="398.7" r="1.85" fill="#ff0000" stroke="#ff0000" fill-opacity="0.72" stroke-opacity="0.72"/>
<circle cx="77.0" cy="399.1" r="1.85" fill="#ff0000" stroke="#ff0000" fill-opacity="0.72" stroke-opacity="0.72"/>
<circle cx="80.0" cy="400.1" r="1.85" fill="#ff0000" stroke="#ff0000" fill-opacity="0.72" stroke-opacity="0.72"/>
<circle cx="83.0" cy="400.1" r="1.85" fill="#ff0000" stroke="#ff0000" fill-opacity="0.72" stroke-opacity="0.72"/>
<circle cx="86.0" cy="400.5" r="1.85" fill="#ff0000" stroke="#ff0000" fill-opacity="0.72" stroke-opacity="0.72"/>
<circle cx="89.0" cy="400.5" r="1.85" fill="#ff0000" stroke="#ff0000" fill-opacity="0.72" stroke-opacity="0.72"/>
</g></svg>
</div></body></html>
